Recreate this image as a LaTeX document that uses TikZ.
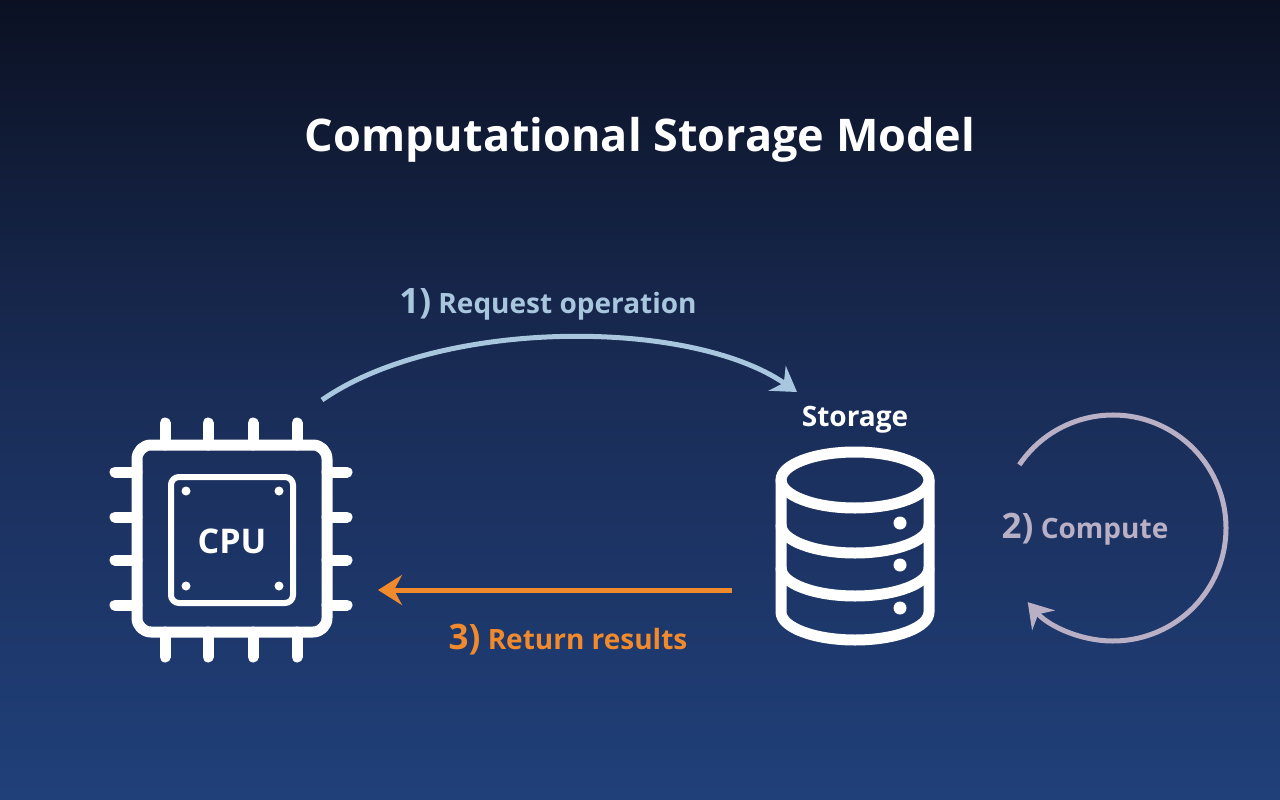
\documentclass[tikz,border=0pt]{standalone}
\usepackage{fontspec}
\setmainfont{Open Sans}
\usetikzlibrary{arrows.meta}
\definecolor{bgtop}{HTML}{0B1123}
\definecolor{bgmid}{HTML}{1A2D58}
\definecolor{bgbot}{HTML}{20407A}
\definecolor{req}{HTML}{A8C6DD}
\definecolor{cmp}{HTML}{B9B0C6}
\definecolor{ret}{HTML}{F08A2C}
\begin{document}
\begin{tikzpicture}[x=1pt,y=-1pt,
  icon/.style={white,line width=11pt,line cap=round,line join=round},
  thin icon/.style={white,line width=6pt,line cap=round},
  lbl/.style={font=\bfseries\fontsize{28}{30}\selectfont,inner sep=0pt},
  conn/.style={line width=5pt,-{Stealth[length=24pt,width=30pt,inset=8pt]}}]
\useasboundingbox (0,0) rectangle (1280,800);
\shade[top color=bgtop,bottom color=bgbot,middle color=bgmid] (0,0) rectangle (1280,800);
\node[white,font=\bfseries\fontsize{45}{48}\selectfont] (title) at (640,140) {Computational Storage Model};
% CPU
\foreach \p in {165,208,253,297}{
  \draw[icon] (\p,423) -- (\p,445);
  \draw[icon] (\p,632) -- (\p,657);}
\foreach \p in {472,517,560,605}{
  \draw[icon] (115,\p) -- (137,\p);
  \draw[icon] (327,\p) -- (347,\p);}
\draw[icon,rounded corners=14pt] (137,445) rectangle (327,632);
\draw[thin icon,rounded corners=8pt] (171,477) rectangle (293,603);
\foreach \a/\b in {186/491,279/491,186/586,279/586}\fill[white] (\a,\b) circle (4.5);
\node[white,font=\bfseries\fontsize{34}{36}\selectfont] (cpu) at (232,541) {CPU};
% Storage
\node[white,font=\bfseries\fontsize{28}{30}\selectfont] (stl) at (855,420) {Storage};
\coordinate (stor) at (855,540);
\draw[icon] (855,480) ellipse (74 and 28);
\draw[icon] (781,480) -- (781,612) arc (180:0:74 and 28) -- (929,480);
\draw[icon] (781,525) arc (180:0:74 and 28);
\draw[icon] (781,568) arc (180:0:74 and 28);
\foreach \b in {523,565,608}\fill[white] (900,\b) circle (6.5);
% request arrow
\draw[req,conn] (322,400) .. controls (440,318) and (690,318) .. (797,392);
\node[lbl,req] (l1) at (548,304) {{\fontsize{35}{36}\selectfont 1)} Request operation};
% compute loop
\coordinate (cc) at (1113,528);
\draw[cmp,conn] (1113,528) ++(-146:113) arc (-146:139:113);
\node[lbl,cmp] (l2) at (1085,529) {{\fontsize{35}{36}\selectfont 2)} Compute};
% return
\coordinate (retS) at (732,590);
\draw[ret,conn] (retS) -- (378,590);
\node[lbl,ret] (l3) at (568,640) {{\fontsize{35}{36}\selectfont 3)} Return results};
\end{tikzpicture}
\end{document}
